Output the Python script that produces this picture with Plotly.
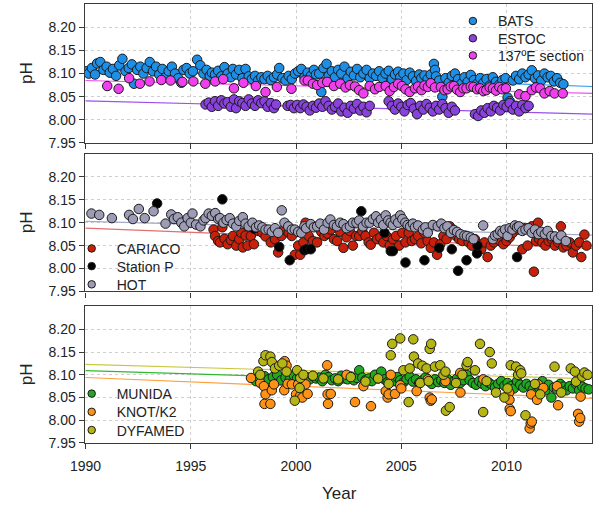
import plotly.graph_objects as go

# ---------------- data ----------------
trend_years = [1990, 2014.1]

bats_year = [1990.05,1990.15,1990.3,1990.45,1990.55,1990.7,1990.85,
 1991.0,1991.15,1991.3,1991.45,1991.6,1991.75,1991.9,
 1992.05,1992.2,1992.3,1992.45,1992.6,1992.75,1992.9,
 1993.05,1993.2,1993.35,1993.5,1993.65,1993.8,1993.95,
 1994.1,1994.25,1994.4,1994.55,1994.65,1994.8,1994.95,
 1995.1,1995.3,1995.45,1995.6,1995.75,1995.9,1996.0,
 1996.15,1996.3,1996.45,1996.6,1996.75,1996.9,
 1997.0,1997.15,1997.3,1997.45,1997.6,1997.75,1997.9,
 1998.05,1998.2,1998.35,1998.5,1998.65,1998.8,1998.95,
 1999.1,1999.2,1999.35,1999.5,1999.65,1999.8,1999.95,
 2000.1,2000.25,2000.4,2000.55,2000.7,2000.85,2000.95,
 2001.1,2001.2,2001.3,2001.45,2001.55,2001.7,2001.85,
 2002.0,2002.15,2002.3,2002.45,2002.6,2002.75,2002.9,
 2003.05,2003.2,2003.35,2003.5,2003.65,2003.8,2003.95,
 2004.1,2004.25,2004.4,2004.55,2004.7,2004.85,2004.95,
 2005.1,2005.25,2005.4,2005.55,2005.7,2005.85,2005.95,
 2006.1,2006.25,2006.4,2006.55,2006.6,2006.65,2006.8,2006.95,
 2007.1,2007.25,2007.4,2007.55,2007.7,2007.85,
 2008.0,2008.15,2008.3,2008.45,2008.6,2008.75,2008.9,
 2009.05,2009.2,2009.35,2009.5,2009.65,2009.8,2009.95,
 2010.05,2010.15,2010.3,2010.45,2010.6,2010.75,2010.9,
 2011.05,2011.2,2011.35,2011.5,2011.65,2011.8,2011.95,
 2012.1,2012.25,2012.4,2012.55,2012.7]
bats_ph = [8.105,8.100,8.112,8.098,8.122,8.125,8.108,
 8.115,8.102,8.110,8.095,8.118,8.132,8.105,
 8.112,8.120,8.078,8.108,8.115,8.100,8.112,
 8.125,8.105,8.115,8.098,8.110,8.092,8.105,
 8.115,8.100,8.090,8.080,8.108,8.112,8.100,
 8.105,8.130,8.118,8.100,8.108,8.095,8.102,
 8.098,8.106,8.094,8.114,8.100,8.092,
 8.110,8.098,8.108,8.090,8.110,8.094,8.088,
 8.095,8.085,8.092,8.088,8.095,8.086,8.092,
 8.098,8.112,8.090,8.085,8.095,8.088,8.100,
 8.105,8.110,8.092,8.102,8.095,8.108,8.098,
 8.100,8.060,8.112,8.121,8.095,8.105,8.092,
 8.108,8.100,8.115,8.090,8.104,8.096,8.110,
 8.092,8.100,8.108,8.090,8.100,8.095,8.105,
 8.090,8.100,8.106,8.088,8.098,8.104,8.092,
 8.100,8.086,8.102,8.094,8.084,8.098,8.090,
 8.096,8.088,8.098,8.121,8.108,8.094,8.085,8.050,
 8.090,8.080,8.095,8.100,8.088,8.078,
 8.092,8.082,8.097,8.086,8.078,8.090,8.080,
 8.088,8.074,8.092,8.082,8.076,8.086,8.090,
 8.048,8.040,8.085,8.095,8.088,8.100,8.092,
 8.098,8.107,8.090,8.096,8.085,8.100,8.092,
 8.095,8.083,8.090,8.080,8.077]
bats_trend = [8.108, 8.072]

estoc_year = [1995.7,1995.85,1996.0,1996.15,1996.3,1996.45,1996.6,1996.75,1996.9,
 1997.05,1997.15,1997.3,1997.45,1997.6,1997.75,1997.9,
 1998.05,1998.2,1998.35,1998.5,1998.65,1998.8,1998.95,1999.05,
 1999.6,1999.75,1999.9,2000.05,2000.2,2000.35,2000.5,2000.65,2000.8,2000.95,
 2001.1,2001.25,2001.4,2001.55,2001.7,2001.85,2002.0,2002.15,2002.3,2002.45,
 2002.6,2002.75,2002.9,2003.05,2003.2,2003.35,2003.5,
 2004.4,2004.55,2004.7,2004.85,2005.0,2005.15,2005.3,2005.45,2005.6,2005.75,
 2005.9,2006.05,2006.2,2006.35,2006.5,2006.65,2006.8,2006.95,2007.1,2007.25,
 2007.4,2007.55,
 2008.5,2008.65,2008.8,2008.95,2009.1,2009.25,2009.4,2009.55,2009.7,2009.85,
 2010.0,2010.15,2010.3,2010.45,2010.6,2010.75,2010.9,2011.05]
estoc_ph = [8.033,8.037,8.028,8.040,8.030,8.042,8.035,8.038,8.028,
 8.044,8.025,8.040,8.036,8.030,8.044,8.035,
 8.030,8.042,8.036,8.040,8.028,8.036,8.025,8.033,
 8.030,8.032,8.025,8.032,8.025,8.033,8.028,8.020,8.030,8.026,
 8.035,8.028,8.040,8.030,8.022,8.028,8.035,8.018,8.026,8.015,
 8.030,8.024,8.034,8.020,8.028,8.016,8.030,
 8.040,8.030,8.022,8.035,8.028,8.018,8.032,8.036,8.024,8.012,
 8.030,8.022,8.034,8.026,8.018,8.030,8.022,8.034,8.025,8.015,
 8.028,8.020,
 8.012,8.008,8.020,8.015,8.025,8.018,8.030,8.026,8.020,8.032,
 8.028,8.036,8.022,8.030,8.018,8.032,8.025,8.030]
estoc_trend = [8.041, 8.012]

e137_year = [1991.03,1991.57,1992.07,1992.58,1993.04,1993.6,1994.04,1994.6,1995.12,
 1995.69,1996.16,1996.54,1997.05,1997.5,1998.09,1998.55,1999.09,1999.78,2000.4,
 2000.56,2000.8,2001.0,2001.25,2001.48,2001.8,2002.1,2002.35,2002.56,2002.8,
 2003.0,2003.2,2003.5,2003.75,2003.95,2004.26,2004.45,2004.65,2004.85,2005.03,
 2005.2,2005.4,2005.65,2005.8,2005.96,2006.1,2006.26,2006.4,2006.6,2006.88,
 2007.05,2007.2,2007.35,2007.5,2007.65,2007.8,2007.95,2008.1,2008.3,2008.43,
 2008.6,2008.74,2008.9,2009.04,2009.2,2009.35,2009.5,2009.66,2009.8,2009.97,
 2010.6,2010.9,2011.2,2011.4,2011.6,2011.8,2012.05,2012.28,2012.67]
e137_ph = [8.073,8.067,8.090,8.078,8.083,8.086,8.085,8.082,8.083,
 8.078,8.083,8.088,8.068,8.080,8.073,8.060,8.071,8.067,8.085,
 8.085,8.078,8.075,8.080,8.082,8.073,8.078,8.070,8.075,8.072,
 8.064,8.057,8.073,8.066,8.071,8.073,8.062,8.071,8.078,8.073,
 8.066,8.060,8.068,8.072,8.064,8.074,8.071,8.079,8.070,8.071,
 8.064,8.066,8.072,8.073,8.065,8.060,8.068,8.068,8.072,8.071,
 8.066,8.068,8.062,8.064,8.070,8.068,8.063,8.071,8.066,8.068,
 8.055,8.051,8.064,8.070,8.068,8.057,8.062,8.057,8.057]
e137_trend = [8.085, 8.057]

cariaco_year = [1996.08,1996.15,1996.3,1996.39,1996.5,1996.6,1996.75,1996.9,
 1997.0,1997.16,1997.3,1997.4,1997.47,1997.6,1997.7,1997.85,1998.0,1998.2,
 1998.4,1998.55,1998.8,1999.0,1999.15,1999.3,1999.45,1999.65,1999.8,1999.94,
 2000.1,2000.2,2000.35,2000.45,2000.6,2000.8,2001.0,2001.2,2001.35,2001.5,
 2001.65,2001.8,2001.95,2002.1,2002.25,2002.4,2002.55,2002.7,2002.85,2003.0,
 2003.15,2003.3,2003.45,2003.55,2003.7,2003.85,2004.0,2004.15,2004.3,2004.45,
 2004.6,2004.75,2004.9,2005.05,2005.2,2005.35,2005.5,2005.65,2005.8,2005.95,
 2006.1,2006.25,2006.4,2006.55,2006.7,2006.85,2007.0,2007.15,2007.3,2007.45,
 2007.6,2007.75,2007.9,2008.05,2008.2,2008.35,2008.5,2008.65,2008.8,2008.95,
 2009.1,2009.25,2009.4,2009.55,2009.7,2009.85,2010.0,2010.15,2010.3,2010.45,
 2010.55,2010.65,2010.75,2010.9,2011.0,2011.2,2011.3,2011.4,2011.5,2011.55,
 2011.7,2011.85,2012.0,2012.15,2012.3,2012.45,2012.58,2012.7,2012.85,2013.0,
 2013.15,2013.3,2013.45,2013.55,2013.7,2013.8]
cariaco_ph = [8.085,8.071,8.060,8.057,8.090,8.065,8.053,8.062,
 8.071,8.050,8.064,8.078,8.046,8.072,8.050,8.071,8.053,8.082,
 8.078,8.070,8.057,8.064,8.035,8.071,8.085,8.078,8.071,8.030,
 8.050,8.030,8.057,8.100,8.071,8.060,8.057,8.080,8.071,8.076,
 8.085,8.064,8.060,8.080,8.045,8.068,8.082,8.050,8.071,8.071,
 8.081,8.071,8.057,8.052,8.078,8.064,8.068,8.057,8.071,8.050,
 8.064,8.071,8.050,8.078,8.057,8.078,8.060,8.064,8.071,8.055,
 8.078,8.060,8.045,8.057,8.030,8.053,8.071,8.064,8.092,8.085,
 8.071,8.064,8.060,8.071,8.057,8.050,8.064,8.053,8.042,8.057,
 8.025,8.050,8.057,8.071,8.060,8.053,8.060,8.068,8.078,8.088,
 8.085,8.090,8.042,8.088,8.050,8.092,7.993,8.060,8.100,8.064,
 8.057,8.050,8.060,8.064,8.050,8.057,8.092,8.046,8.050,8.057,
 8.035,8.050,8.057,8.025,8.074,8.050]
cariaco_trend = [8.088, 8.044]

stationp_year = [1993.4,1996.5,1998.0,1999.2,1999.7,2000.4,2000.5,2000.7,2003.1,
 2004.2,2004.5,2004.6,2005.2,2006.1,2006.8,2007.4,2007.7,2008.1,2008.6,2008.62,2010.5]
stationp_ph = [8.142,8.151,8.087,8.047,8.018,8.040,8.042,8.042,8.125,
 8.078,8.038,8.038,8.013,8.018,8.045,8.042,7.995,8.018,8.033,8.050,8.025]

hot_year = [1990.28,1990.65,1991.25,1992.07,1992.25,1992.53,1992.81,1993.23,1993.8,
 1994.07,1994.2,1994.38,1994.55,1994.69,1994.85,1995.0,1995.08,1995.25,1995.46,
 1995.6,1995.7,1995.85,1996.0,1996.16,1996.3,1996.39,1996.55,1996.7,1996.85,
 1997.0,1997.16,1997.3,1997.47,1997.6,1997.75,1997.93,1998.1,1998.25,1998.4,
 1998.55,1998.7,1998.85,1999.0,1999.15,1999.32,1999.45,1999.63,1999.8,1999.94,
 2000.1,2000.25,2000.4,2000.48,2000.7,2000.85,2001.0,2001.15,2001.33,2001.5,
 2001.63,2001.8,2001.94,2002.1,2002.25,2002.4,2002.56,2002.7,2002.87,2003.0,
 2003.18,2003.35,2003.49,2003.65,2003.8,2003.9,2004.03,2004.15,2004.26,2004.38,
 2004.49,2004.6,2004.72,2004.85,2004.95,2005.05,2005.19,2005.3,2005.42,2005.55,
 2005.65,2005.8,2006.03,2006.15,2006.26,2006.5,2006.73,2006.9,2007.05,2007.19,
 2007.35,2007.5,2007.65,2007.81,2008.0,2008.12,2008.3,2008.43,2008.89,2009.35,
 2009.45,2009.58,2009.7,2009.81,2009.93,2010.05,2010.15,2010.28,2010.4,2010.5,
 2010.59,2010.75,2010.9,2011.05,2011.2,2011.35,2011.51,2011.65,2011.82,2011.95,
 2012.13,2012.3,2012.44,2012.6,2012.82]
hot_ph = [8.120,8.117,8.110,8.117,8.108,8.130,8.110,8.125,8.098,
 8.118,8.108,8.112,8.100,8.092,8.110,8.100,8.120,8.096,8.092,
 8.105,8.110,8.120,8.115,8.121,8.108,8.110,8.100,8.106,8.110,
 8.098,8.092,8.104,8.112,8.098,8.092,8.100,8.090,8.094,8.090,
 8.085,8.085,8.080,8.088,8.078,8.127,8.100,8.092,8.085,8.085,
 8.080,8.078,8.092,8.088,8.097,8.090,8.092,8.098,8.085,8.100,
 8.107,8.095,8.092,8.100,8.097,8.088,8.092,8.100,8.100,8.105,
 8.092,8.100,8.100,8.108,8.114,8.100,8.107,8.095,8.116,8.105,
 8.100,8.095,8.107,8.100,8.116,8.108,8.100,8.095,8.092,8.098,
 8.090,8.094,8.085,8.090,8.078,8.095,8.092,8.098,8.088,8.092,
 8.078,8.084,8.080,8.075,8.072,8.071,8.068,8.064,8.094,8.064,
 8.072,8.075,8.082,8.078,8.085,8.071,8.088,8.085,8.094,8.090,
 8.092,8.082,8.085,8.088,8.078,8.085,8.075,8.080,8.075,8.082,
 8.071,8.070,8.064,8.072,8.060]
hot_trend = [8.103, 8.073]

munida_year = [1998.1,1998.3,1998.5,1998.7,1998.9,1999.1,1999.3,1999.5,1999.7,1999.9,
 2000.05,2000.2,2000.35,2000.5,2000.65,2000.8,2000.95,2001.1,2001.25,2001.4,
 2001.55,2001.7,2001.85,2002.0,2002.15,2002.3,2002.45,2002.6,2002.75,2002.9,
 2003.0,2003.15,2003.3,2003.45,2003.6,2003.75,2003.9,2004.05,2004.2,2004.35,
 2004.5,2004.65,2004.8,2004.95,2005.1,2005.25,2005.4,2005.55,2005.7,2005.85,
 2006.0,2006.15,2006.3,2006.45,2006.6,2006.75,2006.9,2007.05,2007.2,2007.35,
 2007.5,2007.65,2007.8,2007.95,2008.1,2008.25,2008.4,2008.55,2008.7,2008.85,
 2009.0,2009.15,2009.3,2009.45,2009.6,2009.75,2009.9,2010.05,2010.2,2010.35,
 2010.5,2010.65,2010.8,2010.95,2011.1,2011.25,2011.4,2011.55,2011.7,2011.85,
 2012.0,2012.13,2012.25,2012.4,2012.55,2012.7,2012.85,2013.0,2013.15,2013.3,
 2013.45,2013.6,2013.75,2013.9]
munida_ph = [8.086,8.092,8.097,8.090,8.095,8.100,8.088,8.094,8.090,8.098,
 8.092,8.100,8.088,8.095,8.090,8.097,8.092,8.094,8.086,8.100,
 8.095,8.088,8.092,8.086,8.098,8.092,8.090,8.096,8.088,8.093,
 8.110,8.094,8.088,8.092,8.086,8.100,8.092,8.107,8.090,8.084,
 8.092,8.086,8.095,8.088,8.083,8.090,8.096,8.085,8.090,8.082,
 8.088,8.094,8.086,8.080,8.090,8.084,8.088,8.082,8.090,8.078,
 8.086,8.092,8.082,8.088,8.100,8.088,8.082,8.078,8.086,8.080,
 8.075,8.083,8.078,8.072,8.080,8.086,8.076,8.082,8.075,8.070,
 8.086,8.078,8.072,8.080,8.075,8.068,8.078,8.072,8.086,8.066,
 8.078,8.050,8.072,8.068,8.080,8.074,8.066,8.075,8.070,8.080,
 8.066,8.074,8.070,8.068]
munida_trend = [8.109, 8.075]

knot_year = [1997.86,1998.3,1998.47,1998.55,1998.5,1998.78,1998.85,1998.95,1999.44,
 1999.46,1999.55,1999.6,1999.8,2000.0,2000.1,2000.2,2000.3,2000.45,2000.55,
 2001.48,2001.5,2001.52,2001.65,2002.4,2002.8,2003.2,2003.56,2004.26,2004.35,
 2004.4,2004.5,2004.7,2004.95,2005.0,2005.73,2006.26,2006.35,2006.4,2006.45,
 2007.1,2007.8,2007.81,2008.9,2010.12,2010.14,2010.15,2010.2,2011.1,2011.15,
 2011.2,2011.17,2011.45,2011.5,2011.75,2012.4,2012.45,2013.4,2013.45,2013.5,2013.52]
knot_ph = [8.093,8.082,8.075,8.057,8.036,8.036,8.066,8.079,8.066,
 8.130,8.120,8.080,8.079,8.057,8.079,8.054,8.050,8.079,8.058,
 8.121,8.057,8.036,8.058,8.100,8.040,8.075,8.031,8.064,8.050,
 8.057,8.100,8.058,8.077,8.070,8.064,8.090,8.050,8.043,8.046,
 8.086,8.104,8.061,8.090,8.061,8.045,8.025,8.020,7.982,7.993,
 7.997,8.057,8.045,8.079,8.071,8.075,8.033,8.014,7.997,8.005,8.052]
knot_trend = [8.094, 8.048]

dyfamed_year = [1998.2,1998.3,1998.45,1998.55,1998.78,1998.85,1999.0,1999.2,1999.35,
 1999.55,1999.94,2000.05,2000.17,2000.2,2000.35,2000.8,2001.3,2002.0,2002.6,
 2003.3,2003.9,2004.4,2004.5,2004.57,2004.95,2005.1,2005.35,2005.4,2005.57,
 2005.6,2005.8,2005.9,2006.0,2006.2,2006.3,2006.35,2006.42,2006.6,2006.85,
 2007.0,2007.1,2007.12,2007.3,2007.6,2007.9,2008.1,2008.15,2008.5,2008.74,
 2008.89,2009.05,2009.2,2009.3,2009.5,2009.9,2010.05,2010.2,2010.45,2010.55,
 2010.65,2010.7,2010.9,2011.35,2011.6,2012.28,2012.6,2013.05,2013.25,2013.3,
 2013.6,2013.7,2013.85]
dyfamed_ph = [8.107,8.100,8.130,8.143,8.140,8.128,8.114,8.120,8.125,
 8.107,8.043,8.110,8.071,8.093,8.100,8.098,8.092,8.090,8.095,
 8.085,8.092,8.080,8.143,8.168,8.180,8.110,8.040,8.114,8.178,
 8.140,8.125,8.082,8.120,8.114,8.086,8.157,8.168,8.118,8.121,
 8.100,8.107,8.021,8.029,8.082,8.100,8.121,8.128,8.110,8.168,
 8.018,8.086,8.150,8.125,8.061,8.050,8.070,8.121,8.118,8.100,
 8.110,8.103,8.011,8.080,8.057,8.118,8.061,8.114,8.107,8.085,
 8.096,8.105,8.100]
dyfamed_trend = [8.123, 8.091]

# ---------------- styling ----------------
FONT = "Liberation Sans, Arial, sans-serif"
W, H = 600, 513
XL, XR = 71.5, 592
panels = [(4, 145), (156, 296), (311, 450)]

fig = go.Figure()

def ax(k):
    s = "" if k == 1 else str(k)
    return "x" + s, "y" + s

def add_trend(trend, linecolor, k):
    xa, ya = ax(k)
    fig.add_trace(go.Scatter(x=trend_years, y=trend, mode="lines",
        line=dict(color=linecolor, width=1.2), showlegend=False, hoverinfo="skip",
        xaxis=xa, yaxis=ya))

def add_points(year, ph, name, color, k, legend):
    xa, ya = ax(k)
    fig.add_trace(go.Scatter(x=year, y=ph, mode="markers", name=name,
        marker=dict(color=color, size=9.5, line=dict(color="#1a1a1a", width=1)),
        showlegend=False, xaxis=xa, yaxis=ya))
    # legend entry (smaller symbol, own legend box)
    fig.add_trace(go.Scatter(x=[None], y=[None], mode="markers", name=name,
        marker=dict(color=color, size=7.5, line=dict(color="#1a1a1a", width=1)),
        legend=legend, showlegend=True, xaxis=xa, yaxis=ya))

C = dict(bats="#1E8FE6", estoc="#8A42DC", e137="#F040EE",
         cariaco="#C8200A", stp="#000000", hot="#9C9CB6",
         munida="#20A820", knot="#FF9216", dyfamed="#B5B515")

add_trend(bats_trend, "#2A9AEE", 1)
add_trend(estoc_trend, "#9A50EE", 1)
add_trend(e137_trend, "#F050F0", 1)
add_trend(cariaco_trend, "#E07070", 2)
add_trend(hot_trend, "#A8A8C8", 2)
add_trend(munida_trend, "#30B830", 3)
add_trend(knot_trend, "#FFA040", 3)
add_trend(dyfamed_trend, "#C8C840", 3)

entries = [
    (bats_year, bats_ph, "BATS", C["bats"], 1, (473, 19)),
    (estoc_year, estoc_ph, "ESTOC", C["estoc"], 1, (473, 36.5)),
    (e137_year, e137_ph, "137ºE section", C["e137"], 1, (473, 54)),
    (cariaco_year, cariaco_ph, "CARIACO", C["cariaco"], 2, (82, 250)),
    (stationp_year, stationp_ph, "Station P", C["stp"], 2, (82, 268)),
    (hot_year, hot_ph, "HOT", C["hot"], 2, (82, 286.5)),
    (munida_year, munida_ph, "MUNIDA", C["munida"], 3, (82, 397.5)),
    (knot_year, knot_ph, "KNOT/K2", C["knot"], 3, (82, 416)),
    (dyfamed_year, dyfamed_ph, "DYFAMED", C["dyfamed"], 3, (82, 434.5)),
]

layout = dict(width=W, height=H, margin=dict(l=0, r=0, t=0, b=0),
              plot_bgcolor="white", paper_bgcolor="white", showlegend=True,
              font=dict(family=FONT, color="#222"))

OFFX, OFFY = 29, 13.5
for i, (yr, ph, name, col, k, (mx, my)) in enumerate(entries, start=1):
    lname = "legend" if i == 1 else "legend%d" % i
    add_points(yr, ph, name, col, k, lname)
    layout[lname] = dict(font=dict(family=FONT, size=14, color="#222"),
                         bgcolor="rgba(0,0,0,0)", itemsizing="trace", itemwidth=40,
                         xanchor="left", yanchor="top",
                         x=(mx - OFFX) / W, y=1 - (my - OFFY) / H)

axis_common = dict(showline=True, mirror=True, linecolor="#3a3a3a", linewidth=1.3,
                   ticks="outside", ticklen=5, tickcolor="#3a3a3a", tickwidth=1.2,
                   showgrid=True, gridcolor="#cfcfcf", griddash="dot", gridwidth=1,
                   zeroline=False, tickfont=dict(family=FONT, size=14, color="#222"))

for i, (top, bot) in enumerate(panels, start=1):
    sx = "" if i == 1 else str(i)
    dom_y = [1 - bot / H, 1 - top / H]
    layout["xaxis" + sx] = dict(axis_common, domain=[XL / W, XR / W], range=[1989.96, 2014.07],
                                 tickvals=[1990, 1995, 2000, 2005, 2010],
                                 showticklabels=(i == 3), ticklabelstandoff=5,
                                 anchor="y" + sx)
    layout["yaxis" + sx] = dict(axis_common, domain=dom_y, range=[7.95, 8.251],
                                 tickvals=[7.95, 8.00, 8.05, 8.10, 8.15, 8.20],
                                 tickformat=".2f", anchor="x" + sx)

annotations = []
for (top, bot) in panels:
    yc = 1 - (top + bot) / 2 / H
    annotations.append(dict(text="pH", x=12 / W, y=yc, xref="paper", yref="paper",
                            textangle=-90, showarrow=False,
                            font=dict(family=FONT, size=17, color="#222"),
                            xanchor="center", yanchor="middle"))
annotations.append(dict(text="Year", x=333 / W, y=1 - 501 / H, xref="paper", yref="paper",
                        showarrow=False, font=dict(family=FONT, size=17, color="#222"),
                        xanchor="center", yanchor="middle"))
layout["annotations"] = annotations

fig.update_layout(**layout)
fig.write_html("out.html")
